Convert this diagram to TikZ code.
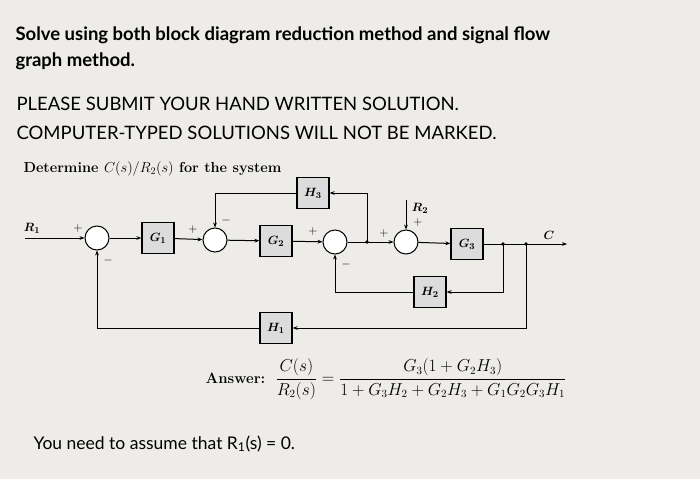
\documentclass[tikz,border=0pt]{standalone}
\usepackage{fontspec}
\usepackage{amsmath}
\newfontfamily\lato{Lato}
\usetikzlibrary{arrows.meta}
\definecolor{bg}{HTML}{EDECE8}
\definecolor{boxf}{HTML}{DCDCDC}
\begin{document}
\begin{tikzpicture}[x=1pt,y=-1pt,
  blk/.style={draw,line width=1.2pt,fill=boxf,minimum width=32pt,minimum height=31pt,inner sep=0pt,font=\fontsize{13}{15}\selectfont},
  sumj/.style={draw,line width=1pt,circle,minimum size=24pt,inner sep=0pt,fill=white},
  ln/.style={line width=1pt,-{Stealth[length=5pt]}},
  sg/.style={font=\fontsize{13}{15}\selectfont},
  dot/.style={circle,fill,inner sep=1.3pt}]
\fill[bg] (0,0) rectangle (700,479);
\useasboundingbox (0,0) rectangle (700,479);
\node[anchor=base west,font=\lato\bfseries\fontsize{18.5}{20}\selectfont] (t1) at (12,40) {Solve using both block diagram reduction method and signal flow};
\node[anchor=base west,font=\lato\bfseries\fontsize{18.5}{20}\selectfont] (t2) at (12,66) {graph method.};
\node[anchor=base west,font=\lato\fontsize{18.5}{20}\selectfont] (t3) at (13,110) {PLEASE SUBMIT YOUR HAND WRITTEN SOLUTION.};
\node[anchor=base west,font=\lato\fontsize{18.5}{20}\selectfont] (t4) at (13,139) {COMPUTER-TYPED SOLUTIONS WILL NOT BE MARKED.};
\node[anchor=base west,font=\bfseries\fontsize{14.5}{16}\selectfont] (t5) at (20,172) {Determine $C(s)/R_2(s)$ for the system};
% nodes
\coordinate (in) at (25,238);
\node[sumj] (s1) at (97,238) {};
\node[blk] (g1) at (158,238) {$\boldsymbol{G_1}$};
\node[sumj] (s2) at (215,240) {};
\node[blk] (g2) at (276,241) {$\boldsymbol{G_2}$};
\node[sumj] (s3) at (335,242) {};
\coordinate (j0) at (367,242);
\node[sumj] (s4) at (406,242) {};
\node[blk] (g3) at (467,244) {$\boldsymbol{G_3}$};
\coordinate (j1) at (503,244);
\coordinate (j2) at (526,244);
\coordinate (out) at (567,244);
\node[blk] (h3) at (313,193) {$\boldsymbol{H_3}$};
\node[blk] (h2) at (430,292) {$\boldsymbol{H_2}$};
\node[blk] (h1) at (276,328) {$\boldsymbol{H_1}$};
\coordinate (r2) at (406,200);
% forward
\draw[ln] (in) -- (s1);
\draw[ln] (s1) -- (g1);
\draw[ln] (g1) -- (s2);
\draw[ln] (s2) -- (g2);
\draw[ln] (g2) -- (s3);
\draw[ln] (s3) -- (s4);
\draw[ln] (s4) -- (g3);
\draw[ln] (g3) -- (out);
\draw[ln] (r2) -- (s4);
% feedback
\draw[ln] (j0) |- (h3);
\draw[ln] (h3) -| (s2);
\draw[ln] (j1) |- (h2);
\draw[ln] (h2) -| (s3);
\draw[ln] (j2) |- (h1);
\draw[ln] (h1) -| (s1);
\node[dot] at (j0) {};
\node[dot] at (j1) {};
\node[dot] at (j2) {};
% labels
\node[sg] (lr1) at (32,228) {$\boldsymbol{R_1}$};
\node[sg] (lr2) at (420,208) {$\boldsymbol{R_2}$};
\node[sg] (lc) at (549,235) {$\boldsymbol{C}$};
\node[sg] (p1) at (78,228) {$+$};
\node[sg] (m1) at (108,260) {$-$};
\node[sg] (p2) at (193,229) {$+$};
\node[sg] (m2) at (226,220) {$-$};
\node[sg] (p3) at (313,231) {$+$};
\node[sg] (m3) at (346,264) {$-$};
\node[sg] (p4) at (384,233) {$+$};
\node[sg] (p5) at (418,222) {$+$};
% answer
\node[anchor=base west,font=\bfseries\fontsize{15}{17}\selectfont] (ans) at (202,383) {Answer:};
\node[font=\fontsize{16}{18}\selectfont] (eq) at (421,379) {$\dfrac{C(s)}{R_2(s)}=\dfrac{G_3(1+G_2H_3)}{1+G_3H_2+G_2H_3+G_1G_2G_3H_1}$};
\node[anchor=base west,font=\lato\fontsize{17.5}{19}\selectfont] (t6) at (30,449) {You need to assume that R\textsubscript{1}(s) = 0.};
\end{tikzpicture}
\end{document}
